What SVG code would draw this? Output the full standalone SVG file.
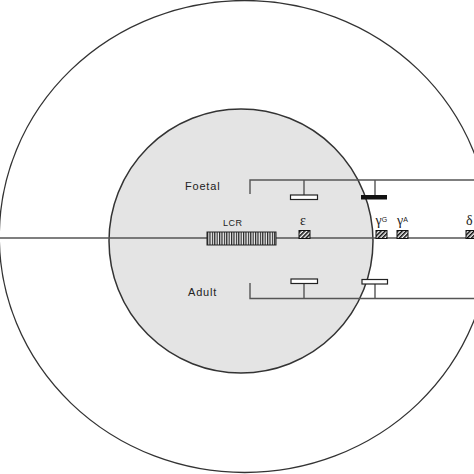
<svg xmlns="http://www.w3.org/2000/svg" width="474" height="474" viewBox="0 0 474 474">
<defs>
<pattern id="diag" patternUnits="userSpaceOnUse" width="3" height="3" patternTransform="rotate(45)">
<rect width="3" height="3" fill="#fff"/>
<rect width="1.6" height="3" fill="#111"/>
</pattern>
<pattern id="vert" patternUnits="userSpaceOnUse" x="207" width="2.4" height="10">
<rect width="2.4" height="10" fill="#f4f4f4"/>
<rect width="1.2" height="10" fill="#222"/>
</pattern>
<style>
.lbl{font-family:"Liberation Sans",Arial,sans-serif;font-size:11px;letter-spacing:0.8px;fill:#222}
.small{font-family:"Liberation Sans",Arial,sans-serif;font-size:9px;letter-spacing:0.5px;fill:#222}
.greek{font-family:"Liberation Serif","Times New Roman",serif;font-size:14px;fill:#222}
.sub{font-family:"Liberation Sans",Arial,sans-serif;font-size:7px;fill:#222}
.ln{stroke:#555;stroke-width:1.4;fill:none}
.gene{fill:url(#diag);stroke:#111;stroke-width:1}
.bar{fill:#fff;stroke:#222;stroke-width:1.2}
</style>
</defs>
<rect width="474" height="474" fill="#fff"/>
<g id="outer-circle">
<ellipse cx="244.7" cy="236.5" rx="245.4" ry="236" fill="none" stroke="#333" stroke-width="1.3"/>
</g>
<g id="inner-circle">
<circle cx="241" cy="241" r="132" fill="#e4e4e4" stroke="#333" stroke-width="1.5"/>
</g>
<g id="connectors">
<line class="ln" x1="0" y1="238" x2="474" y2="238"/>
<polyline class="ln" points="250,194 250,180 474,180"/>
<polyline class="ln" points="250,283 250,298.5 474,298.5"/>
<line class="ln" x1="304" y1="180" x2="304" y2="195"/>
<line class="ln" x1="375" y1="180" x2="375" y2="195"/>
<line class="ln" x1="304" y1="298.5" x2="304" y2="284"/>
<line class="ln" x1="375" y1="298.5" x2="375" y2="284"/>
</g>
<g id="foetal">
<text class="lbl" x="185" y="190">Foetal</text>
<rect class="bar" x="290.5" y="195" width="27" height="4.5"/>
<rect x="361" y="195" width="26" height="4.5" fill="#111"/>
</g>
<g id="adult">
<text class="lbl" x="188" y="296">Adult</text>
<rect class="bar" x="291" y="279" width="26.5" height="4.5"/>
<rect class="bar" x="362" y="279.5" width="25.5" height="4.5"/>
</g>
<g id="lcr">
<text class="small" x="223" y="226">LCR</text>
<rect x="207" y="232" width="69" height="13" fill="url(#vert)" stroke="#222" stroke-width="1"/>
</g>
<g id="epsilon">
<text class="greek" x="300" y="225">ε</text>
<rect class="gene" x="299" y="230.5" width="11" height="8"/>
</g>
<g id="gammaG">
<text class="greek" x="375.5" y="225">γ<tspan class="sub" dy="-3">G</tspan></text>
<rect class="gene" x="376" y="230.5" width="11" height="8"/>
</g>
<g id="gammaA">
<text class="greek" x="397" y="225">γ<tspan class="sub" dy="-3">A</tspan></text>
<rect class="gene" x="397" y="230.5" width="11" height="8"/>
</g>
<g id="delta">
<text class="greek" x="466" y="225">δ</text>
<rect class="gene" x="466" y="230.5" width="11" height="8"/>
</g>
</svg>
